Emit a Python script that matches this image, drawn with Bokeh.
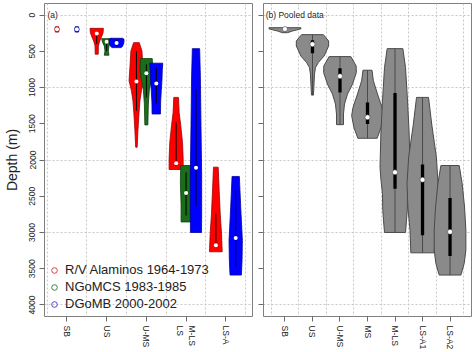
from bokeh.plotting import figure
from bokeh.layouts import row
from bokeh.models import Range1d, FixedTicker, Label, Legend, LegendItem
from bokeh.embed import file_html
from bokeh.resources import INLINE

FONT = "Liberation Sans"

# ---------------- data: panel (a) ----------------
# the fourth position carries two zone names (LS and M-LS) on one tick
a_categories = ["SB", "US", "U-MS", ["LS", "M-LS"], "LS-A"]
surveys = ["R/V Alaminos 1964-1973", "NGoMCS 1983-1985", "DGoMB 2000-2002"]

a_group = [1, 1, 2, 2, 2, 3, 3, 3, 4, 4, 4, 5, 5]
a_survey = [0, 2, 0, 1, 2, 0, 1, 2, 0, 1, 2, 0, 2]
a_depths = [
    [160, 197, 235],
    [160, 197, 235],
    [183, 243, 312, 357, 426, 540],
    [325, 380, 426, 495, 554],
    [320, 335, 385, 430, 449],
    [380, 495, 724, 907, 1045, 1182, 1365, 1594, 1824],
    [600, 724, 862, 1022, 1228, 1516],
    [664, 760, 900, 1040, 1200, 1365],
    [1136, 1344, 1527, 1757, 1986, 2131],
    [2076, 2300, 2620, 2855],
    [463, 839, 1527, 2215, 2720, 3000],
    [2099, 2422, 2743, 3018, 3267],
    [2227, 2651, 3110, 3385, 3588],
]
a_halfwidths = [
    [0.040, 0.057, 0.040],
    [0.040, 0.057, 0.040],
    [0.168, 0.160, 0.113, 0.076, 0.042, 0.038],
    [0.126, 0.101, 0.059, 0.042, 0.059],
    [0.151, 0.189, 0.183, 0.151, 0.113],
    [0.072, 0.139, 0.164, 0.185, 0.126, 0.088, 0.063, 0.038, 0.019],
    [0.148, 0.160, 0.139, 0.076, 0.050, 0.038],
    [0.164, 0.151, 0.143, 0.126, 0.110, 0.105],
    [0.059, 0.076, 0.117, 0.160, 0.177, 0.177],
    [0.135, 0.143, 0.126, 0.126],
    [0.092, 0.110, 0.126, 0.143, 0.143, 0.139],
    [0.059, 0.084, 0.110, 0.143, 0.160],
    [0.092, 0.126, 0.168, 0.160, 0.143],
]
a_medians = [197, 197, 255, 367, 385, 917, 802, 944, 2044, 2456, 2107, 3175, 3075]
a_box_lo = [190, 190, 220, 357, 345, 495, 680, 724, 1480, 2170, 1020, 2740, 2420]
a_box_hi = [205, 205, 400, 495, 430, 1320, 1136, 1228, 2080, 2767, 2630, 3200, 3477]

# ---------------- data: panel (b) ----------------
b_categories = ["SB", "US", "U-MS", "MS", "M-LS", "LS-A1", "LS-A2"]
b_depths = [
    [174, 190, 220, 243],
    [270, 357, 426, 564, 655, 724, 815, 1104],
    [573, 701, 793, 953, 1090, 1228, 1365, 1512],
    [761, 907, 1090, 1274, 1388, 1549, 1700],
    [463, 724, 1182, 1640, 2099, 2282, 2465, 2694, 2832, 3000],
    [1136, 1503, 1961, 2327, 2649, 2969, 3281],
    [2076, 2327, 2649, 2969, 3244, 3427, 3588],
]
b_halfwidths = [
    [0.58, 0.58, 0.27, 0.09],
    [0.395, 0.587, 0.587, 0.424, 0.213, 0.109, 0.073, 0.036],
    [0.395, 0.587, 0.595, 0.455, 0.273, 0.164, 0.127, 0.127],
    [0.164, 0.213, 0.364, 0.527, 0.576, 0.496, 0.351],
    [0.285, 0.382, 0.455, 0.515, 0.545, 0.509, 0.455, 0.445, 0.418, 0.382],
    [0.218, 0.333, 0.504, 0.564, 0.533, 0.455, 0.424],
    [0.333, 0.442, 0.527, 0.576, 0.576, 0.515, 0.395],
]
b_medians = [192, 403, 843, 1411, 2170, 2273, 2992]
b_box_lo = [182, 348, 733, 1205, 1075, 2062, 2525]
b_box_hi = [204, 527, 1068, 1503, 2396, 3038, 3326]

depth_ticks = [0, 500, 1000, 1500, 2000, 2500, 3000, 3500, 4000]
depth_grid = [0, 1000, 2000, 3000, 4000]

# ---------------- styles ----------------
fill_cols = ["#ff0000", "#1a6e1a", "#0000ff"]
edge_cols = ["#a00000", "#0b3f0b", "#0000a0"]
legend_cols = ["#d04848", "#3f7f3f", "#4848c8"]
offsets = [-0.25, 0.0, 0.25]
GRID = "#c8c8c8"
FRAME = "#808080"
TICKC = "#6a6a6a"
TXT = "#222222"


def tick_text(lab):
    # vertical (rotated) labels stack lines right-to-left, so reverse the order
    if isinstance(lab, list):
        return "\n".join(reversed(lab))
    return lab


def violin(center, depths, hw):
    xs = [center + w for w in hw] + [center - w for w in reversed(hw)]
    ys = list(depths) + list(reversed(depths))
    return xs, ys


def style(p, ncat, labels, show_y):
    p.outline_line_color = FRAME
    p.outline_line_width = 1
    p.xaxis.ticker = FixedTicker(ticks=list(range(1, ncat + 1)))
    p.xaxis.major_label_overrides = {i + 1: tick_text(lab) for i, lab in enumerate(labels)}
    p.xaxis.major_label_orientation = "vertical"
    p.yaxis.ticker = FixedTicker(ticks=depth_ticks)
    p.yaxis.major_label_orientation = "vertical"
    for ax in (p.xaxis, p.yaxis):
        ax.axis_line_color = None
        ax.major_tick_line_color = TICKC
        ax.major_tick_in = 0
        ax.major_tick_out = 5
        ax.minor_tick_line_color = None
        ax.major_label_text_font = FONT
        ax.major_label_text_font_size = "8.5px"
        ax.major_label_text_color = TXT
    p.xaxis.major_label_standoff = 4
    p.yaxis.major_label_standoff = 4
    if not show_y:
        p.yaxis.major_label_overrides = {t: "" for t in depth_ticks}
        p.yaxis.major_label_standoff = 0
    p.xgrid.ticker = FixedTicker(ticks=[i + 0.5 for i in range(0, ncat + 1)])
    p.ygrid.ticker = FixedTicker(ticks=depth_grid)
    for g in (p.xgrid, p.ygrid):
        g.grid_line_color = GRID
        g.grid_line_dash = "2 2"
        g.grid_line_width = 1


# ---------------- panel (a) ----------------
p1 = figure(width=256, height=352, x_range=Range1d(0.435, 5.673),
            y_range=Range1d(4160, -160), min_border_left=44, min_border_right=4,
            min_border_top=3, min_border_bottom=36,
            output_backend="svg", toolbar_location=None)
style(p1, len(a_categories), a_categories, True)
p1.yaxis.axis_label = "Depth (m)"
p1.yaxis.axis_label_text_font = FONT
p1.yaxis.axis_label_text_font_size = "14px"
p1.yaxis.axis_label_text_font_style = "normal"
p1.yaxis.axis_label_text_color = TXT
p1.yaxis.axis_label_standoff = 7

for i in range(len(a_group)):
    s = a_survey[i]
    c = a_group[i] + offsets[s]
    xs, ys = violin(c, a_depths[i], a_halfwidths[i])
    p1.patch(xs, ys, fill_color=fill_cols[s], line_color=edge_cols[s], line_width=0.8)
    p1.segment(x0=[c], y0=[a_box_lo[i]], x1=[c], y1=[a_box_hi[i]],
               line_color="black", line_width=1)
    p1.scatter([c], [a_medians[i]], size=4, fill_color="white", line_color=None)

items = []
nan = float("nan")
for s in range(3):
    r = p1.scatter([nan], [nan], marker="circle", size=8, fill_color=None,
                   line_color=legend_cols[s], line_width=1)
    items.append(LegendItem(label=surveys[s], renderers=[r]))
leg = Legend(items=items, location=(2, 5), padding=2, margin=0, spacing=2,
             glyph_width=16, glyph_height=14, label_height=14, label_standoff=3,
             label_text_font=FONT, label_text_font_size="13px", label_text_color=TXT,
             border_line_color=None, background_fill_alpha=0)
p1.add_layout(leg)

p1.add_layout(Label(x=0.51, y=0, text="(a)", text_baseline="middle",
                    text_font=FONT, text_font_size="8.5px", text_color=TXT,
                    background_fill_color="white"))

# ---------------- panel (b) ----------------
p2 = figure(width=218, height=352, x_range=Range1d(0.22, 7.78),
            y_range=Range1d(4160, -160), min_border_left=7, min_border_right=3,
            min_border_top=3, min_border_bottom=36,
            output_backend="svg", toolbar_location=None)
style(p2, len(b_categories), b_categories, False)

for i in range(len(b_categories)):
    c = i + 1
    xs, ys = violin(c, b_depths[i], b_halfwidths[i])
    p2.patch(xs, ys, fill_color="#8a8a8a", line_color="#4a4a4a", line_width=1)
    p2.segment(x0=[c], y0=[b_depths[i][0]], x1=[c], y1=[b_depths[i][-1]],
               line_color="#4a4a4a", line_width=1)
    p2.segment(x0=[c], y0=[b_box_lo[i]], x1=[c], y1=[b_box_hi[i]],
               line_color="black", line_width=3.3)
    p2.scatter([c], [b_medians[i]], size=5, fill_color="white",
               line_color="#333333", line_width=0.5)

p2.add_layout(Label(x=0.3, y=0, text="(b) Pooled data", text_baseline="middle",
                    text_font=FONT, text_font_size="8.5px", text_color=TXT,
                    background_fill_color="white"))

layout = row(p1, p2)
open("out.html", "w").write(file_html(layout, INLINE))
